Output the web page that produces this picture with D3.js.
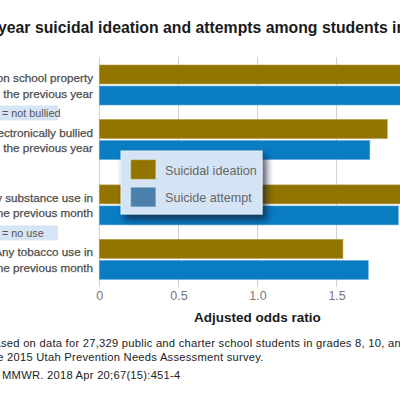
<!DOCTYPE html>
<html>
<head>
<meta charset="utf-8">
<script src="https://cdn.jsdelivr.net/npm/d3@7"></script>
<style>
  body { margin: 0; background: #fff; }
  svg { display: block; }
</style>
</head>
<body>
<svg id="chart" width="400" height="400"></svg>
<script>
// values; bars clipped at the right edge are estimated
var categories = [
  ['Bullied on school property', 'in the previous year'],
  ['Electronically bullied', 'in the previous year'],
  ['Any substance use in', 'the previous month'],
  ['Any tobacco use in', 'the previous month']
];
var sections = [0, 0, 1, 1];
var ideation = [2.25, 1.82, 2.15, 1.54];
var attempt = [2.5, 1.71, 1.89, 1.70];
var series = ['Suicidal ideation', 'Suicide attempt'];
var refLabels = ['Reference = not bullied', 'Reference = no use'];
var xTicks = [0, 0.5, 1.0, 1.5, 2.0];
var tickLabels = ['0', '0.5', '1.0', '1.5', '2.0'];

var barColors = ['#927400', '#0a7cc2'];
var swatchColors = ['#927400', '#4a80ab'];

var svg = d3.select('#chart');
var narrow = '"Liberation Sans Narrow", "Arial Narrow", sans-serif';

// the picture is a crop: shift a text so that the part after `skip` chars starts at x0
function startAt(sel, skip, x0) {
  sel.each(function () {
    var w = skip > 0 ? this.getSubStringLength(0, skip) : 0;
    d3.select(this).attr('x', x0 - w);
  });
}

var x = d3.scaleLinear().domain([0, 2]).range([99.3, 415.7]);
// each section pushes its groups down a little
var y = d3.scaleLinear().domain([0, 3.2]).range([65, 239.4]);
var inner = d3.scaleBand().domain(series).range([0, 40]).paddingInner(0.1);

var rows = categories.map(function (c, i) {
  return { lines: c, pos: i + sections[i] * 0.2, values: [ideation[i], attempt[i]] };
});

// title
svg.append('text')
  .attr('y', 33)
  .style('font-family', narrow).style('font-weight', 'bold').style('font-size', '15.8px')
  .style('fill', '#1a1a1a')
  .text('Past-year suicidal ideation and attempts among students in Utah')
  .call(startAt, 5, -2);

// grid
var grid = svg.append('g');
grid.selectAll('line').data(xTicks).enter().append('line')
  .attr('x1', function (d) { return x(d); }).attr('x2', function (d) { return x(d); })
  .attr('y1', 57).attr('y2', 287)
  .style('stroke', '#cfcfcf').style('stroke-width', 1);

// bars
var groups = svg.selectAll('g.grp').data(rows).enter().append('g')
  .attr('class', 'grp')
  .attr('transform', function (d) { return 'translate(0,' + y(d.pos) + ')'; });

groups.selectAll('rect').data(function (d) { return d.values; }).enter().append('rect')
  .attr('x', x(0))
  .attr('y', function (d, j) { return inner(series[j]); })
  .attr('width', function (d) { return x(d) - x(0); })
  .attr('height', inner.bandwidth())
  .style('fill', function (d, j) { return barColors[j]; })
  .style('stroke', function (d, j) { return j ? '#5aa6d8' : '#b49b40'; })
  .style('stroke-width', 0.6);

// category labels
groups.each(function (d) {
  var t = d3.select(this).append('text')
    .attr('text-anchor', 'end')
    .style('font-family', narrow).style('font-size', '11.7px').style('fill', '#4d4d4d')
    .style('stroke', '#4d4d4d').style('stroke-width', 0.25);
  d.lines.forEach(function (l, k) {
    t.append('tspan').attr('x', 93).attr('y', 17 + k * 15.5).text(l);
  });
});

// reference notes under the first group of each section
var refs = svg.selectAll('g.ref').data(refLabels).enter().append('g')
  .attr('class', 'ref')
  .attr('transform', function (d, i) {
    var r = rows.filter(function (rr, k) { return sections[k] === i; })[0];
    return 'translate(0,' + (y(r.pos) + 40.5) + ')';
  });
refs.append('rect').attr('x', -2).attr('y', 0).attr('width', 60).attr('height', 15)
  .style('fill', '#d5e5f5');
refs.append('text').attr('y', 11.3)
  .style('font-family', narrow).style('font-size', '10.8px').style('fill', '#555')
  .text(function (d) { return d; })
  .call(startAt, 10, 2);

// x axis
var axis = d3.axisBottom(x).tickValues(xTicks).tickSize(0).tickPadding(0)
  .tickFormat(function (d, i) { return tickLabels[i]; });
var ax = svg.append('g').attr('transform', 'translate(0,291)').call(axis);
ax.select('.domain').remove();
ax.selectAll('text').attr('dy', '0.71em')
  .style('font-family', narrow).style('font-size', '12.5px').style('fill', '#777');

svg.append('text')
  .attr('x', (x.range()[0] + x.range()[1]) / 2).attr('y', 322)
  .attr('text-anchor', 'middle')
  .style('font-family', narrow).style('font-weight', 'bold').style('font-size', '13.5px')
  .style('fill', '#1a1a1a')
  .text('Adjusted odds ratio');

// legend
var defs = svg.append('defs');
var f = defs.append('filter').attr('id', 'shadow')
  .attr('x', '-20%').attr('y', '-20%').attr('width', '150%').attr('height', '160%');
f.append('feDropShadow').attr('dx', 4).attr('dy', 5).attr('stdDeviation', 3.5)
  .attr('flood-color', '#0a1f35').attr('flood-opacity', 0.75);

var lg = svg.append('g').attr('transform', 'translate(121,151)');
lg.append('rect').attr('width', 141).attr('height', 63)
  .style('fill', '#d5e4f4').style('stroke', '#e4eefa').style('stroke-width', 1)
  .attr('filter', 'url(#shadow)');
var items = lg.selectAll('g.item').data(series).enter().append('g')
  .attr('class', 'item')
  .attr('transform', function (d, i) { return 'translate(10,' + (9 + i * 27.7) + ')'; });
items.append('rect').attr('width', 24.5).attr('height', 19)
  .style('fill', function (d, i) { return swatchColors[i]; })
  .style('stroke', function (d, i) { return i ? '#7aa3c6' : '#b49b40'; })
  .style('stroke-width', 0.6);
items.append('text').attr('x', 34).attr('y', 14.5)
  .style('font-family', narrow).style('font-size', '12.6px').style('fill', '#666')
  .text(function (d) { return d; });

// footnote
var foot = svg.append('g').style('font-family', '"Liberation Sans", Arial, sans-serif')
  .style('font-size', '11.2px').style('letter-spacing', '0.25px').style('fill', '#222');
foot.append('text').attr('y', 346.5)
  .text('Note: Based on data for 27,329 public and charter school students in grades 8, 10, and 12 who completed')
  .call(startAt, 8, 1);
foot.append('text').attr('y', 361)
  .text('the 2015 Utah Prevention Needs Assessment survey.')
  .call(startAt, 4, 7);
foot.append('text').attr('y', 378.5)
  .text('Source: MMWR. 2018 Apr 20;67(15):451-4')
  .call(startAt, 8, 2);
</script>
</body>
</html>
